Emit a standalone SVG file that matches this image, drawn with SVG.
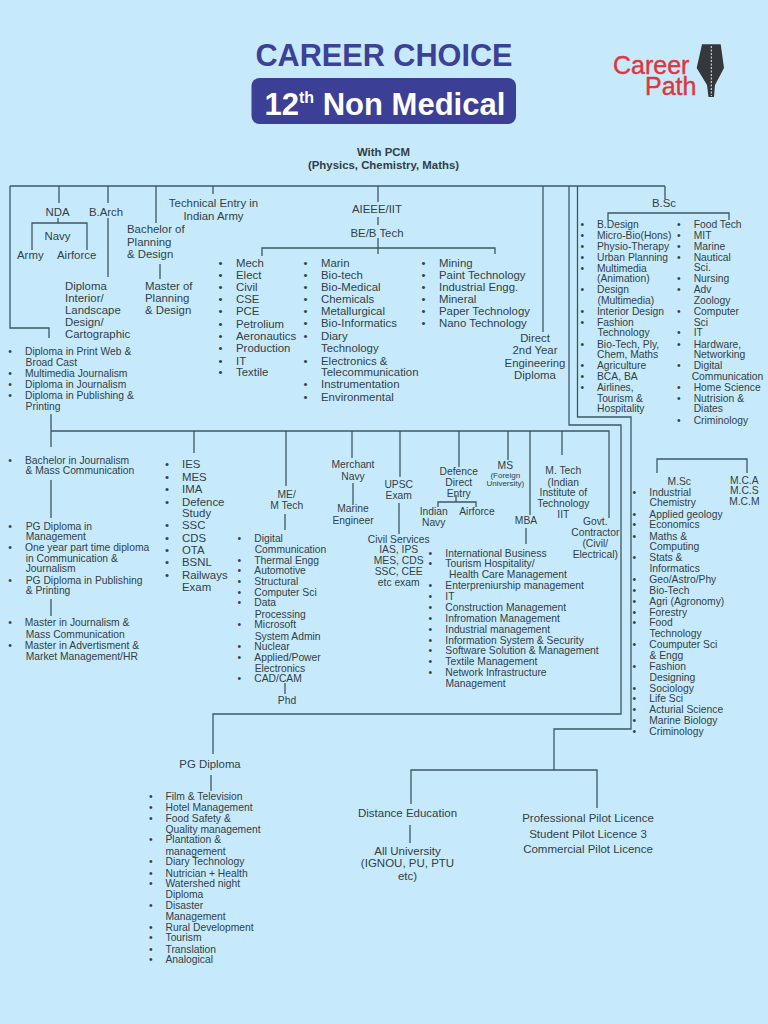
<svg xmlns="http://www.w3.org/2000/svg" width="768" height="1024" viewBox="0 0 768 1024">
<style>
text{font-family:"Liberation Sans",Arial,sans-serif;fill:#323f46}
.t{font-size:11.4px}.s{font-size:10.3px}.x{font-size:8px}.e{font-size:11.5px}
.m{text-anchor:middle}
.b{font-weight:bold;font-size:11.4px}
#connectors path{fill:none;stroke:#3d5763;stroke-width:1.3}
#connectors path.top{stroke-width:1.7}
</style>
<rect width="768" height="1024" fill="#c6eafb"/>
<g id="title"><text x="384" y="65.500" class="m" style="font-weight:bold;font-size:31.500px;fill:#3c4096" textLength="257" lengthAdjust="spacingAndGlyphs">CAREER CHOICE</text></g>
<g id="subtitle"><rect x="251.500" y="78" width="264.500" height="46" rx="8" fill="#3c3f96"/>
<text x="264.500" y="114.500" style="font-weight:bold;font-size:31px;fill:#fff">12<tspan dy="-12" style="font-size:16px;fill:#fff">th</tspan><tspan dy="12" style="fill:#fff"> Non Medical</tspan></text></g>
<g id="logo">
<text style="font-size:25px;fill:#e1343c;stroke:#e1343c;stroke-width:0.4"><tspan x="613" y="73.500">Career</tspan><tspan x="645" y="95">Path</tspan></text>
<path d="M702 44.300H720.700L724 68L715 85L714 97H708.500L707 85L696.700 68Z" fill="#34383c"/>
<path d="M711.300 46V96" stroke="#e8eef0" stroke-width="1" stroke-dasharray="2 1.500" fill="none"/>
</g>
<g id="connectors">
<path class="top" d="M10 186H665"/>
<path d="M665 186V199M10 186V328H49V338"/>
<path d="M59 186V203M58 218V223M32 250V223H87V250"/>
<path d="M108 186V203M108 218V277"/>
<path d="M156 186V223M160 264V279"/>
<path d="M213 186V194"/>
<path d="M378 186V202M378 217V225M378 238V254M262 256V248H495V254"/>
<path d="M543 186V332"/>
<path d="M608 220V213H729V220"/>
<path d="M569 186V425H621V714H213V754"/>
<path d="M577.500 186V417H631V729H554V770"/>
<path d="M411 804V770H597V808"/>
<path d="M211 775V791M410 825V843"/>
<path d="M51 414V447M51 480V518M51 599V616"/>
<path d="M51 431H609V518"/>
<path d="M194 431V453M286 431V486M285 514V530M285 683V694"/>
<path d="M352 431V458M353 483V505"/>
<path d="M400 431V477M399 503V534"/>
<path d="M459 431V467M456 495V502M438 507V502H476V507"/>
<path d="M508 431V460M530 431V515M526 528V544M562 431V455"/>
<path d="M657 473V459H747V473"/>
</g>
<g id="n-pcm"><text x="383.500" y="156.300" class="b m">With PCM</text><text x="383.500" y="169.300" class="b m">(Physics, Chemistry, Maths)</text></g>
<g id="n-nda"><text x="57.500" y="216" class="t m">NDA</text></g>
<g id="n-barch"><text x="106" y="216" class="t m">B.Arch</text></g>
<g id="n-navy"><text x="57.500" y="240" class="t m">Navy</text></g>
<g id="n-army"><text x="17" y="259" class="t">Army</text></g>
<g id="n-airforce"><text x="57" y="259" class="t">Airforce</text></g>
<g id="n-planning"><text x="127" y="233" class="t">Bachelor of</text><text x="127" y="245.500" class="t">Planning</text><text x="127" y="258" class="t">&amp; Design</text></g>
<g id="n-master-planning"><text x="145" y="290" class="t">Master of</text><text x="145" y="302" class="t">Planning</text><text x="145" y="313.500" class="t">&amp; Design</text></g>
<g id="n-technical"><text x="213.500" y="207" class="t m">Technical Entry in</text><text x="213.500" y="219.500" class="t m">Indian Army</text></g>
<g id="n-diploma-interior"><text x="65" y="289.500" class="t">Diploma</text><text x="65" y="302" class="t">Interior/</text><text x="65" y="313.500" class="t">Landscape</text><text x="65" y="326" class="t">Design/</text><text x="65" y="338" class="t">Cartographic</text></g>
<g id="n-aieee"><text x="377" y="213" class="t m">AIEEE/IIT</text></g>
<g id="n-be"><text x="377" y="237" class="t m">BE/B Tech</text></g>
<g id="n-mech" class="t">
<text y="266.700"><tspan x="218.500">•</tspan><tspan x="236">Mech</tspan></text>
<text y="279"><tspan x="218.500">•</tspan><tspan x="236">Elect</tspan></text>
<text y="291.300"><tspan x="218.500">•</tspan><tspan x="236">Civil</tspan></text>
<text y="303"><tspan x="218.500">•</tspan><tspan x="236">CSE</tspan></text>
<text y="315.300"><tspan x="218.500">•</tspan><tspan x="236">PCE</tspan></text>
<text y="327.700"><tspan x="218.500">•</tspan><tspan x="236">Petrolium</tspan></text>
<text y="340"><tspan x="218.500">•</tspan><tspan x="236">Aeronautics</tspan></text>
<text y="352.300"><tspan x="218.500">•</tspan><tspan x="236">Production</tspan></text>
<text y="364.700"><tspan x="218.500">•</tspan><tspan x="236">IT</tspan></text>
<text y="376.300"><tspan x="218.500">•</tspan><tspan x="236">Textile</tspan></text>
</g>
<g id="n-marin" class="t">
<text y="266.700"><tspan x="303.500">•</tspan><tspan x="321">Marin</tspan></text>
<text y="279"><tspan x="303.500">•</tspan><tspan x="321">Bio-tech</tspan></text>
<text y="291.300"><tspan x="303.500">•</tspan><tspan x="321">Bio-Medical</tspan></text>
<text y="302.700"><tspan x="303.500">•</tspan><tspan x="321">Chemicals</tspan></text>
<text y="315"><tspan x="303.500">•</tspan><tspan x="321">Metallurgical</tspan></text>
<text y="327.300"><tspan x="303.500">•</tspan><tspan x="321">Bio-Informatics</tspan></text>
<text y="339.700"><tspan x="303.500">•</tspan><tspan x="321">Diary</tspan></text>
<text y="352.300" x="321">Technology</text>
<text y="364.700"><tspan x="303.500">•</tspan><tspan x="321">Electronics &amp;</tspan></text>
<text y="376" x="321">Telecommunication</text>
<text y="388.300"><tspan x="303.500">•</tspan><tspan x="321">Instrumentation</tspan></text>
<text y="400.700"><tspan x="303.500">•</tspan><tspan x="321">Environmental</tspan></text>
</g>
<g id="n-mining" class="t">
<text y="266.700"><tspan x="421.500">•</tspan><tspan x="439">Mining</tspan></text>
<text y="279"><tspan x="421.500">•</tspan><tspan x="439">Paint Technology</tspan></text>
<text y="291.300"><tspan x="421.500">•</tspan><tspan x="439">Industrial Engg.</tspan></text>
<text y="302.700"><tspan x="421.500">•</tspan><tspan x="439">Mineral</tspan></text>
<text y="315"><tspan x="421.500">•</tspan><tspan x="439">Paper Technology</tspan></text>
<text y="327.300"><tspan x="421.500">•</tspan><tspan x="439">Nano Technology</tspan></text>
</g>
<g id="n-direct"><text x="535" y="341.700" class="t m">Direct</text><text x="535" y="354" class="t m">2nd Year</text><text x="535" y="366.700" class="t m">Engineering</text><text x="535" y="379" class="t m">Diploma</text></g>
<g id="n-bsc"><text x="664" y="207" class="t m">B.Sc</text></g>
<g id="n-bsc-1" class="s">
<text y="227.500"><tspan x="580.500">•</tspan><tspan x="597">B.Design</tspan></text>
<text y="238.500"><tspan x="580.500">•</tspan><tspan x="597">Micro-Bio(Hons)</tspan></text>
<text y="249.500"><tspan x="580.500">•</tspan><tspan x="597">Physio-Therapy</tspan></text>
<text y="260.800"><tspan x="580.500">•</tspan><tspan x="597">Urban Planning</tspan></text>
<text y="271.500"><tspan x="580.500">•</tspan><tspan x="597">Multimedia</tspan></text>
<text y="281.800" x="597">(Animation)</text>
<text y="293.200"><tspan x="580.500">•</tspan><tspan x="597">Design</tspan></text>
<text y="303.500" x="597.500">(Multimedia)</text>
<text y="314.800"><tspan x="580.500">•</tspan><tspan x="597">Interior Design</tspan></text>
<text y="325.500"><tspan x="580.500">•</tspan><tspan x="597">Fashion</tspan></text>
<text y="336.200" x="597.500">Technology</text>
<text y="347.500"><tspan x="580.500">•</tspan><tspan x="597">Bio-Tech, Ply,</tspan></text>
<text y="357.800" x="597">Chem, Maths</text>
<text y="369.200"><tspan x="580.500">•</tspan><tspan x="597">Agriculture</tspan></text>
<text y="379.800"><tspan x="580.500">•</tspan><tspan x="597">BCA, BA</tspan></text>
<text y="391.200"><tspan x="580.500">•</tspan><tspan x="597">Airlines,</tspan></text>
<text y="401.800" x="597">Tourism &amp;</text>
<text y="412.200" x="597">Hospitality</text>
</g>
<g id="n-bsc-2" class="s">
<text y="227.500"><tspan x="677">•</tspan><tspan x="693.700">Food Tech</tspan></text>
<text y="238.500"><tspan x="677">•</tspan><tspan x="693.700">MIT</tspan></text>
<text y="249.500"><tspan x="677">•</tspan><tspan x="693.700">Marine</tspan></text>
<text y="260.800"><tspan x="677">•</tspan><tspan x="693.700">Nautical</tspan></text>
<text y="271.200" x="693.700">Sci.</text>
<text y="281.800"><tspan x="677">•</tspan><tspan x="693.700">Nursing</tspan></text>
<text y="293.200"><tspan x="677">•</tspan><tspan x="693.700">Adv</tspan></text>
<text y="303.800" x="693.700">Zoology</text>
<text y="315.200"><tspan x="677">•</tspan><tspan x="693.700">Computer</tspan></text>
<text y="325.500" x="693.700">Sci</text>
<text y="336.200"><tspan x="677">•</tspan><tspan x="693.700">IT</tspan></text>
<text y="347.500"><tspan x="677">•</tspan><tspan x="693.700">Hardware,</tspan></text>
<text y="357.800" x="693.700">Networking</text>
<text y="369.200"><tspan x="677">•</tspan><tspan x="693.700">Digital</tspan></text>
<text y="379.800" x="691.700">Communication</text>
<text y="390.800"><tspan x="677">•</tspan><tspan x="693.700">Home Science</tspan></text>
<text y="401.800"><tspan x="677">•</tspan><tspan x="693.700">Nutrision &amp;</tspan></text>
<text y="412.200" x="693.700">Diates</text>
<text y="423.500"><tspan x="677">•</tspan><tspan x="693.700">Criminology</tspan></text>
</g>
<g id="n-diploma-print" class="s">
<text y="355"><tspan x="8.200">•</tspan><tspan x="25">Diploma in Print Web &amp;</tspan></text>
<text y="365.700" x="25.600">Broad Cast</text>
<text y="377"><tspan x="8.200">•</tspan><tspan x="25">Multimedia Journalism</tspan></text>
<text y="387.700"><tspan x="8.200">•</tspan><tspan x="25">Diploma in Journalism</tspan></text>
<text y="399"><tspan x="8.200">•</tspan><tspan x="25">Diploma in Publishing &amp;</tspan></text>
<text y="409.700" x="25.600">Printing</text>
</g>
<g id="n-bachelor-journalism" class="s">
<text y="463.500"><tspan x="8.200">•</tspan><tspan x="25">Bachelor in Journalism</tspan></text>
<text y="474.200" x="25.500">&amp; Mass Communication</text>
</g>
<g id="n-pg-management" class="s">
<text y="529.500"><tspan x="8.200">•</tspan><tspan x="25.700">PG Diploma in</tspan></text>
<text y="539.800" x="25.700">Management</text>
<text y="550.500"><tspan x="8.200">•</tspan><tspan x="25">One year part time diploma</tspan></text>
<text y="561.500" x="25.700">in Communication &amp;</text>
<text y="572.200" x="25.700">Journalism</text>
<text y="583.500"><tspan x="8.200">•</tspan><tspan x="25.700">PG Diploma in Publishing</tspan></text>
<text y="594.200" x="25.700">&amp; Printing</text>
</g>
<g id="n-master-journalism" class="s">
<text y="626.200"><tspan x="8.200">•</tspan><tspan x="24.700">Master in Journalism &amp;</tspan></text>
<text y="637.500" x="25.700">Mass Communication</text>
<text y="648.500"><tspan x="8.200">•</tspan><tspan x="24.700">Master in Advertisment &amp;</tspan></text>
<text y="659.500" x="25.700">Market Management/HR</text>
</g>
<g id="n-ies" class="t">
<text y="468.300"><tspan x="165">•</tspan><tspan x="182">IES</tspan></text>
<text y="480.700"><tspan x="165">•</tspan><tspan x="182">MES</tspan></text>
<text y="493"><tspan x="165">•</tspan><tspan x="182">IMA</tspan></text>
<text y="505.700"><tspan x="165">•</tspan><tspan x="182">Defence</tspan></text>
<text y="517.300" x="182">Study</text>
<text y="529.300"><tspan x="165">•</tspan><tspan x="182">SSC</tspan></text>
<text y="541.700"><tspan x="165">•</tspan><tspan x="182">CDS</tspan></text>
<text y="554"><tspan x="165">•</tspan><tspan x="182">OTA</tspan></text>
<text y="566.300"><tspan x="165">•</tspan><tspan x="182">BSNL</tspan></text>
<text y="578.700"><tspan x="165">•</tspan><tspan x="182">Railways</tspan></text>
<text y="591" x="182">Exam</text>
</g>
<g id="n-me"><text x="286.700" y="497.500" class="s m">ME/</text><text x="286.700" y="509.200" class="s m">M Tech</text></g>
<g id="n-digital" class="s">
<text y="541.500"><tspan x="237.500">•</tspan><tspan x="254.300">Digital</tspan></text>
<text y="552.800" x="254.700">Communication</text>
<text y="563.500"><tspan x="237.500">•</tspan><tspan x="254.300">Thermal Engg</tspan></text>
<text y="574.200"><tspan x="237.500">•</tspan><tspan x="254.300">Automotive</tspan></text>
<text y="585.200"><tspan x="237.500">•</tspan><tspan x="254.300">Structural</tspan></text>
<text y="595.800"><tspan x="237.500">•</tspan><tspan x="254.300">Computer Sci</tspan></text>
<text y="606.200"><tspan x="237.500">•</tspan><tspan x="254.300">Data</tspan></text>
<text y="617.500" x="254.700">Processing</text>
<text y="627.800"><tspan x="237.500">•</tspan><tspan x="254.300">Microsoft</tspan></text>
<text y="639.500" x="254.700">System Admin</text>
<text y="650.200"><tspan x="237.500">•</tspan><tspan x="254.300">Nuclear</tspan></text>
<text y="660.800"><tspan x="237.500">•</tspan><tspan x="254.300">Applied/Power</tspan></text>
<text y="671.800" x="254.700">Electronics</text>
<text y="682.200"><tspan x="237.500">•</tspan><tspan x="254.300">CAD/CAM</tspan></text>
</g>
<g id="n-phd"><text x="287" y="704.200" class="s m">Phd</text></g>
<g id="n-merchant"><text x="353" y="468.200" class="s m">Merchant</text><text x="353" y="479.800" class="s m">Navy</text></g>
<g id="n-marine"><text x="353" y="512" class="s m">Marine</text><text x="353" y="523.500" class="s m">Engineer</text></g>
<g id="n-upsc"><text x="398.700" y="488.200" class="s m">UPSC</text><text x="398.700" y="498.800" class="s m">Exam</text></g>
<g id="n-civil"><text x="398.700" y="542.500" class="s m">Civil Services</text><text x="398.700" y="552.800" class="s m">IAS, IPS</text><text x="398.700" y="564.200" class="s m">MES, CDS</text><text x="398.700" y="574.800" class="s m">SSC, CEE</text><text x="398.700" y="585.500" class="s m">etc exam</text></g>
<g id="n-defence"><text x="458.700" y="475.200" class="s m">Defence</text><text x="458.700" y="485.500" class="s m">Direct</text><text x="458.700" y="496.800" class="s m">Entry</text></g>
<g id="n-indian-navy"><text x="433.700" y="514.800" class="s m">Indian</text><text x="433.700" y="525.500" class="s m">Navy</text></g>
<g id="n-def-airforce"><text x="477" y="514.800" class="s m">Airforce</text></g>
<g id="n-ms"><text x="505.300" y="469" class="s m">MS</text><text x="505.300" y="477.800" class="x m">(Foreign</text><text x="505.300" y="486.200" class="x m">University)</text></g>
<g id="n-mtech"><text x="563.300" y="474.200" class="s m">M. Tech</text><text x="563.300" y="485.500" class="s m">(Indian</text><text x="563.300" y="495.800" class="s m">Institute of</text><text x="563.300" y="506.500" class="s m">Technology</text><text x="563.300" y="517.800" class="s m">IIT</text></g>
<g id="n-mba"><text x="526" y="524.200" class="s m">MBA</text></g>
<g id="n-govt"><text x="595.300" y="525.200" class="s m">Govt.</text><text x="595.300" y="536.200" class="s m">Contractor</text><text x="595.300" y="547.200" class="s m">(Civil/</text><text x="595.300" y="557.800" class="s m">Electrical)</text></g>
<g id="n-mba-list" class="s">
<text y="556.800"><tspan x="428.500">•</tspan><tspan x="445.300">International Business</tspan></text>
<text y="567.200"><tspan x="428.500">•</tspan><tspan x="445.300">Tourism Hospitality/</tspan></text>
<text y="577.800" x="449">Health Care Management</text>
<text y="589.200"><tspan x="428.500">•</tspan><tspan x="445.300">Enterpreniurship management</tspan></text>
<text y="599.500"><tspan x="428.500">•</tspan><tspan x="445.300">IT</tspan></text>
<text y="611.200"><tspan x="428.500">•</tspan><tspan x="445.300">Construction Management</tspan></text>
<text y="621.500"><tspan x="428.500">•</tspan><tspan x="445.300">Infromation Management</tspan></text>
<text y="632.800"><tspan x="428.500">•</tspan><tspan x="445.300">Industrial management</tspan></text>
<text y="643.500"><tspan x="428.500">•</tspan><tspan x="445.300">Information System &amp; Security</tspan></text>
<text y="653.800"><tspan x="428.500">•</tspan><tspan x="445.300">Software Solution &amp; Management</tspan></text>
<text y="665.200"><tspan x="428.500">•</tspan><tspan x="445.300">Textile Management</tspan></text>
<text y="675.800"><tspan x="428.500">•</tspan><tspan x="445.300">Network Infrastructure</tspan></text>
<text y="687.200" x="445.500">Management</text>
</g>
<g id="n-msc"><text x="679.300" y="485.200" class="s m">M.Sc</text></g>
<g id="n-mca"><text x="744.300" y="483.500" class="s m">M.C.A</text><text x="744.300" y="494.200" class="s m">M.C.S</text><text x="744.300" y="505.200" class="s m">M.C.M</text></g>
<g id="n-msc-list" class="s">
<text y="495.800"><tspan x="632.500">•</tspan><tspan x="649.300">Industrial</tspan></text>
<text y="506.200" x="649.500">Chemistry</text>
<text y="517.800"><tspan x="632.500">•</tspan><tspan x="649.300">Applied geology</tspan></text>
<text y="528.200"><tspan x="632.500">•</tspan><tspan x="649.300">Economics</tspan></text>
<text y="539.500"><tspan x="632.500">•</tspan><tspan x="649.300">Maths &amp;</tspan></text>
<text y="550.200" x="649.500">Computing</text>
<text y="561.200"><tspan x="632.500">•</tspan><tspan x="649.300">Stats &amp;</tspan></text>
<text y="571.800" x="649.500">Informatics</text>
<text y="582.500"><tspan x="632.500">•</tspan><tspan x="649.300">Geo/Astro/Phy</tspan></text>
<text y="593.800"><tspan x="632.500">•</tspan><tspan x="649.300">Bio-Tech</tspan></text>
<text y="604.500"><tspan x="632.500">•</tspan><tspan x="649.300">Agri (Agronomy)</tspan></text>
<text y="615.800"><tspan x="632.500">•</tspan><tspan x="649.300">Forestry</tspan></text>
<text y="626.200"><tspan x="632.500">•</tspan><tspan x="649.300">Food</tspan></text>
<text y="636.800" x="649.500">Technology</text>
<text y="648.200"><tspan x="632.500">•</tspan><tspan x="649.300">Coumputer Sci</tspan></text>
<text y="658.800" x="649.500">&amp; Engg</text>
<text y="670.200"><tspan x="632.500">•</tspan><tspan x="649.300">Fashion</tspan></text>
<text y="680.500" x="649.500">Designing</text>
<text y="691.800"><tspan x="632.500">•</tspan><tspan x="649.300">Sociology</tspan></text>
<text y="702.200"><tspan x="632.500">•</tspan><tspan x="649.300">Life Sci</tspan></text>
<text y="712.800"><tspan x="632.500">•</tspan><tspan x="649.300">Acturial Science</tspan></text>
<text y="724.200"><tspan x="632.500">•</tspan><tspan x="649.300">Marine Biology</tspan></text>
<text y="734.800"><tspan x="632.500">•</tspan><tspan x="649.300">Criminology</tspan></text>
</g>
<g id="n-pg-diploma"><text x="210" y="768" class="t m">PG Diploma</text></g>
<g id="n-pg-list" class="s">
<text y="800.200"><tspan x="149">•</tspan><tspan x="165.500">Film &amp; Television</tspan></text>
<text y="810.800"><tspan x="149">•</tspan><tspan x="165.500">Hotel Management</tspan></text>
<text y="822.200"><tspan x="149">•</tspan><tspan x="165.500">Food Safety &amp;</tspan></text>
<text y="832.800" x="165.500">Quality management</text>
<text y="843.200"><tspan x="149">•</tspan><tspan x="165.500">Plantation &amp;</tspan></text>
<text y="854.500" x="165.500">management</text>
<text y="865.200"><tspan x="149">•</tspan><tspan x="165.500">Diary Technology</tspan></text>
<text y="876.500"><tspan x="149">•</tspan><tspan x="165.500">Nutrician + Health</tspan></text>
<text y="887.200"><tspan x="149">•</tspan><tspan x="165.500">Watershed night</tspan></text>
<text y="897.500" x="165.500">Diploma</text>
<text y="908.800"><tspan x="149">•</tspan><tspan x="165.500">Disaster</tspan></text>
<text y="919.500" x="165.500">Management</text>
<text y="930.800"><tspan x="149">•</tspan><tspan x="165.500">Rural Development</tspan></text>
<text y="941.200"><tspan x="149">•</tspan><tspan x="165.500">Tourism</tspan></text>
<text y="952.500"><tspan x="149">•</tspan><tspan x="165.500">Translation</tspan></text>
<text y="963.200"><tspan x="149">•</tspan><tspan x="165.500">Analogical</tspan></text>
</g>
<g id="n-distance"><text x="407.500" y="817.300" class="e m">Distance Education</text></g>
<g id="n-university"><text x="407.500" y="854.700" class="e m">All University</text><text x="407.500" y="867.300" class="e m">(IGNOU, PU, PTU</text><text x="407.500" y="879.700" class="e m">etc)</text></g>
<g id="n-pilot"><text x="588" y="822.300" class="e m">Professional Pilot Licence</text><text x="588" y="837.700" class="e m">Student Pilot Licence 3</text><text x="588" y="853" class="e m">Commercial Pilot Licence</text></g>
</svg>
